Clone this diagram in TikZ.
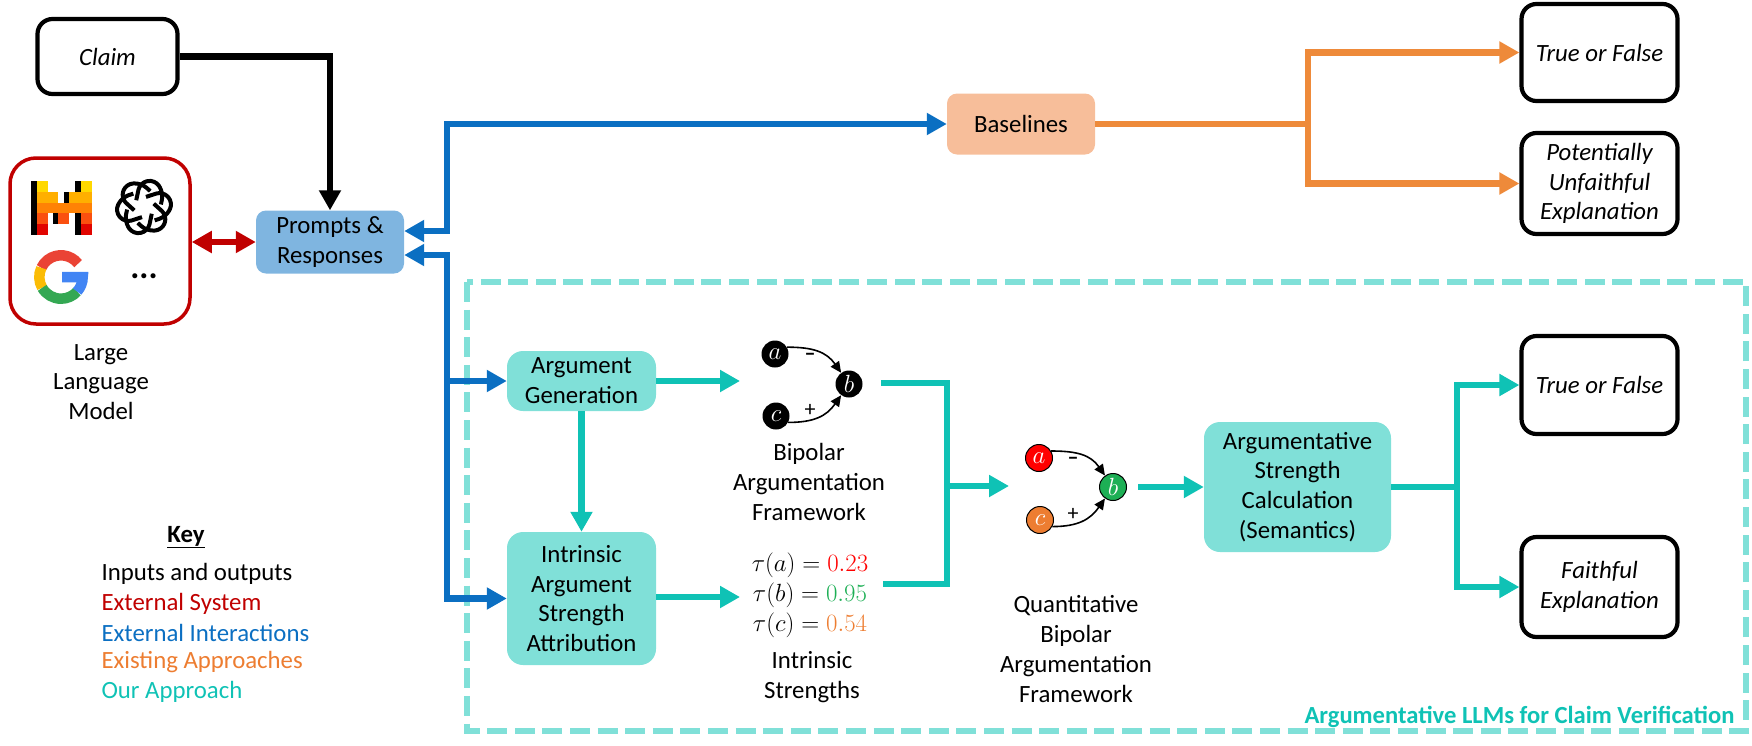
\documentclass[tikz,border=0pt]{standalone}
\usepackage{fontspec}
\setmainfont{Carlito}
\usetikzlibrary{arrows.meta, positioning, calc}
\definecolor{tealline}{HTML}{0FC2B5}
\definecolor{tealbox}{HTML}{80E0D8}
\definecolor{blueline}{HTML}{0B6FC2}
\definecolor{bluebox}{HTML}{7FB5E0}
\definecolor{orangeline}{HTML}{EE8A3A}
\definecolor{orangebox}{HTML}{F7BE9A}
\definecolor{redline}{HTML}{C00000}
\definecolor{keygreen}{HTML}{1DAF55}
\definecolor{keyorange}{HTML}{ED7D31}
\definecolor{mist1}{HTML}{FFD800}
\definecolor{mist2}{HTML}{FFAF00}
\definecolor{mist3}{HTML}{FF8205}
\definecolor{mist4}{HTML}{FA500F}
\definecolor{mist5}{HTML}{E10500}
\definecolor{gred}{HTML}{EA4335}
\definecolor{gyellow}{HTML}{FBBC05}
\definecolor{ggreen}{HTML}{34A853}
\definecolor{gblue}{HTML}{4285F4}
\newcommand{\fs}{\fontsize{24.8}{29.8}\selectfont}
\tikzset{
  bighead/.tip={Triangle[length=20pt,width=21pt]},
  flow/.style={line width=6.8pt, -bighead},
  ioline/.style={flow, draw=black},
  tealflow/.style={flow, draw=tealline, color=tealline},
  blueflow/.style={flow, draw=blueline, color=blueline},
  orangeflow/.style={flow, draw=orangeline, color=orangeline},
  stepbox/.style={fill=tealbox, rounded corners=16pt, align=center, inner sep=0pt},
  iobox/.style={draw, line width=4.2pt, rounded corners=15pt, align=center, font=\fs\itshape, minimum width=156pt, inner sep=0pt},
  txt/.style={align=center, font=\fs},
  arg/.style={circle, fill=black, minimum size=27pt, inner sep=0pt, text=white, font=\fontsize{25}{25}\selectfont},
  qarg/.style={arg, draw=black, line width=1pt},
  rel/.style={line width=1.6pt, looseness=1.1, -{Triangle[length=11pt,width=10pt]}},
  sign/.style={inner sep=0pt, font=\fontsize{22}{22}\selectfont},
}
\begin{document}
\begin{tikzpicture}[x=1pt, y=-1pt, font=\fs]
  \useasboundingbox (0,0) rectangle (1752,745);

  % frame round our approach
  \draw[tealbox, line width=6pt, dash pattern=on 20pt off 7.6pt] (467,282) rectangle (1746,731);
  \node[anchor=east, font=\fontsize{24.6}{29}\selectfont\bfseries, text=tealline] (frametitle) at (1738,717) {Argumentative LLMs for Claim Verification};

  \node[iobox, minimum width=140pt, minimum height=75pt] (claim) at (107.5,56.5) {Claim};
  \node[fill=bluebox, rounded corners=10pt, align=center, minimum width=148pt, minimum height=63pt, inner sep=0pt] (prompts) at (330,242) {Prompts \&\\Responses};
  \node[fill=orangebox, rounded corners=10pt, minimum width=148pt, minimum height=61pt] (baselines) at (1021,124) {Baselines};
  \node[iobox, minimum height=97pt] (out1) at (1599.5,52.5) {True or False};
  \node[iobox, minimum height=101pt] (out2) at (1599.5,183.5) {Potentially\\Unfaithful\\Explanation};
  \node[iobox, minimum height=98pt] (out3) at (1599.5,385) {True or False};
  \node[iobox, minimum height=100pt] (out4) at (1599.5,587) {Faithful\\Explanation};

  \node[draw=redline, line width=3.5pt, rounded corners=26pt, minimum width=180pt, minimum height=166pt] (llm) at (100,241) {};
  \node[txt] (llmlabel) at (101,382) {Large\\Language\\Model};

  \node[stepbox, minimum width=149pt, minimum height=60pt] (gen) at (581.5,381) {Argument\\Generation};
  \node[stepbox, minimum width=149pt, minimum height=133pt] (intr) at (581.5,598.5) {Intrinsic\\Argument\\Strength\\Attribution};
  \node[stepbox, minimum width=187pt, minimum height=130pt] (calc) at (1297.5,487) {Argumentative\\Strength\\Calculation\\(Semantics)};

  % black graph
  \node[arg] (a1) at (775,354) {$a$};
  \node[arg] (b1) at (849,384) {$b$};
  \node[arg] (c1) at (776,416) {$c$};
  \node[sign] (minus1) at (810,357) {\textbf{–}};
  \node[sign] (plus1) at (810,410) {+};
  \draw[rel] (a1.30) to[out=0, in=125] (b1);
  \draw[rel] (c1.-28) to[out=0, in=-125] (b1);
  \node[txt] (bipolar) at (809,482) {Bipolar\\Argumentation\\Framework};

  % coloured graph
  \node[qarg, fill=red] (a2) at (1039,458) {$a$};
  \node[qarg, fill=keygreen] (b2) at (1113,487) {$b$};
  \node[qarg, fill=keyorange] (c2) at (1040,520) {$c$};
  \node[sign] (minus2) at (1073,461) {\textbf{–}};
  \node[sign] (plus2) at (1073,514) {+};
  \draw[rel] (a2.30) to[out=0, in=125] (b2);
  \draw[rel] (c2.-28) to[out=0, in=-125] (b2);
  \node[txt] (quant) at (1076,649) {Quantitative\\Bipolar\\Argumentation\\Framework};

  \node[txt, font=\fontsize{25.5}{29.8}\selectfont] (taus) at (810,595) {$\tau(a)=\textcolor{red}{0.23}$\\$\tau(b)=\textcolor{keygreen}{0.95}$\\$\tau(c)=\textcolor{keyorange}{0.54}$};
  \node[txt] (strengths) at (812,677) {Intrinsic\\Strengths};

  % key
  \node[font=\fs\bfseries] (keyhead) at (186,537) {\underline{Key}};
  \node[anchor=west] (key1) at (98,574) {Inputs and outputs};
  \node[anchor=west, text=redline] (key2) at (98,604) {External System};
  \node[anchor=west, text=blueline] (key3) at (98,633) {External Interactions};
  \node[anchor=west, text=keyorange] (key4) at (98,662) {Existing Approaches};
  \node[anchor=west, text=tealline] (key5) at (98,692) {Our Approach};

  % connectors
  \draw[ioline] (claim.east) -| (prompts.north);
  \draw[redline, line width=6.8pt, bighead-bighead] (llm.east |- prompts.west) -- (prompts.west);

  \coordinate (bluehigh) at (447,231);
  \coordinate (bluelow) at (447,255);
  \draw[blueflow, bighead-bighead] (prompts.east |- bluehigh) -- (bluehigh) |- (baselines.west);
  \draw[blueflow, bighead-bighead] (prompts.east |- bluelow) -- (bluelow) |- (intr.west);
  \draw[blueflow] (bluelow) |- (gen.west);

  \coordinate (orangesplit) at (1308,124);
  \draw[orangeflow] (baselines.east) -- (orangesplit) |- (out1.west);
  \draw[orangeflow] (orangesplit) |- (out2.west);

  \coordinate (genend) at (740,381);
  \coordinate (intrend) at (740,597);
  \draw[tealflow] (gen.east) -- (genend);
  \draw[tealflow] (intr.east |- intrend) -- (intrend);
  \draw[tealflow] (gen.south) -- (intr.north);

  \coordinate (bipend) at (881,383);
  \coordinate (tauend) at (883,584);
  \coordinate (merge) at (947,486);
  \coordinate (mergeend) at (1009,486);
  \draw[tealline, line width=6.8pt, line join=miter] (bipend) -| (merge) |- (tauend);
  \draw[tealflow] (merge) -- (mergeend);

  \coordinate (bend) at (1138,487);
  \draw[tealflow] (bend) -- (calc.west);

  \coordinate (calcsplit) at (1457,487);
  \draw[tealflow] (calc.east) -- (calcsplit) |- (out3.west);
  \draw[tealflow] (calcsplit) |- (out4.west);

  % mistral logo
  \foreach \ya/\yb/\cc in {181/192/mist1, 192/203/mist2, 203/213/mist3, 213/224/mist4, 224/235/mist5}{
    \fill[\cc] (37,\ya) rectangle (92,\yb);
  }
  \fill (31,181) rectangle (37,235);
  \foreach \ya/\yb in {181/192, 224/235}{
    \fill[white] (48,\ya) rectangle (75,\yb);
    \fill (75,\ya) rectangle (81,\yb);
  }
  \fill[white] (58,192) rectangle (64,203);
  \fill (64,192) rectangle (69,203);
  \fill[white] (48,213) rectangle (53,224);
  \fill (53,213) rectangle (58,224);
  \fill[white] (69,213) rectangle (75,224);
  \fill (75,213) rectangle (81,224);

  % openai logo
  \begin{scope}[shift={(144,207)}, y=1pt, rotate=-12]
    \foreach \r in {0,60,...,300}{
      \draw[rotate=\r, line width=4pt, rounded corners=7pt] (-9,5) -- (-9,23) -- (5,29) -- (16,18) -- (16,6);
    }
  \end{scope}

  % google logo
  \begin{scope}[shift={(61,277)}, y=1pt, line width=10.5pt]
    \draw[gred] (38:21.7) arc (38:155:21.7);
    \draw[gyellow] (155:21.7) arc (155:210:21.7);
    \draw[ggreen] (210:21.7) arc (210:318:21.7);
    \draw[gblue] (318:21.7) arc (318:360:21.7) -- (1,0);
  \end{scope}
  \node[font=\fontsize{34}{34}\selectfont\bfseries] (dots) at (144,276) {...};
\end{tikzpicture}
\end{document}
